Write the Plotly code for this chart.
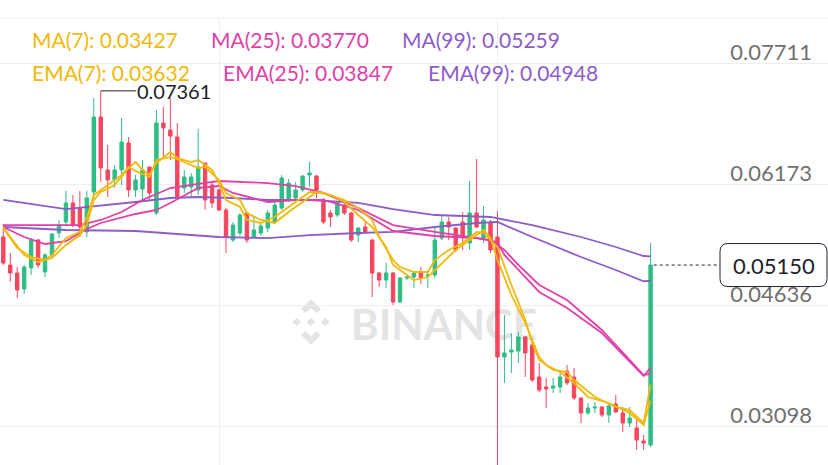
import plotly.graph_objects as go

# ---------------- data ----------------
open_ = [0.05506, 0.05151, 0.05049, 0.04846, 0.05113, 0.05468, 0.05062, 0.05278, 0.05557, 0.05696,
         0.05938, 0.05874, 0.05570, 0.06077, 0.07029, 0.06357, 0.06230, 0.06357, 0.06699, 0.06103,
         0.06115, 0.06395, 0.05811, 0.06953, 0.06864, 0.06775, 0.06128, 0.06141, 0.06103, 0.06445,
         0.06166, 0.06103, 0.05849, 0.05468, 0.05557, 0.05811, 0.05506, 0.05557, 0.05620, 0.05696,
         0.05874, 0.05976, 0.06001, 0.06103, 0.06293, 0.06280, 0.05976, 0.05811, 0.05785, 0.05912,
         0.05811, 0.05531, 0.05633, 0.05468, 0.05049, 0.04960, 0.05049, 0.04681, 0.04986, 0.04998,
         0.05049, 0.05011, 0.05024, 0.05493, 0.05696, 0.05620, 0.05696, 0.05430, 0.05811, 0.05493,
         0.05684, 0.05506, 0.03983, 0.04046, 0.04059, 0.04237, 0.04135, 0.03729, 0.03602, 0.03589,
         0.03602, 0.03805, 0.03729, 0.03462, 0.03272, 0.03335, 0.03348, 0.03247, 0.03386, 0.03272,
         0.03145, 0.03082, 0.02916, 0.02866]
high = [0.05671, 0.05303, 0.05125, 0.05151, 0.05493, 0.05481, 0.05303, 0.05557, 0.05722, 0.06090,
        0.06039, 0.06090, 0.06090, 0.07270, 0.07361, 0.06674, 0.06420, 0.07017, 0.06775, 0.06293,
        0.06483, 0.06395, 0.07118, 0.07156, 0.07270, 0.06953, 0.06357, 0.06318, 0.06877, 0.06445,
        0.06191, 0.06128, 0.05874, 0.05696, 0.05811, 0.05823, 0.05760, 0.05696, 0.05849, 0.05976,
        0.06293, 0.06242, 0.06204, 0.06293, 0.06458, 0.06293, 0.06001, 0.05849, 0.05950, 0.05938,
        0.05823, 0.05633, 0.05696, 0.05481, 0.05062, 0.05176, 0.05062, 0.04998, 0.05024, 0.05062,
        0.05125, 0.05087, 0.05620, 0.05785, 0.05760, 0.05633, 0.05823, 0.06217, 0.06496, 0.05900,
        0.05722, 0.05836, 0.04516, 0.04287, 0.04300, 0.04249, 0.04161, 0.03907, 0.03716, 0.03716,
        0.03792, 0.03881, 0.03843, 0.03475, 0.03399, 0.03412, 0.03361, 0.03399, 0.03500, 0.03348,
        0.03348, 0.03183, 0.02993, 0.05430]
low = [0.05151, 0.04935, 0.04732, 0.04783, 0.05024, 0.05113, 0.04998, 0.05239, 0.05493, 0.05658,
       0.05633, 0.05506, 0.05506, 0.05976, 0.06204, 0.06014, 0.06128, 0.06166, 0.06014, 0.06014,
       0.05976, 0.05976, 0.05785, 0.06509, 0.06483, 0.05976, 0.06065, 0.06014, 0.06039, 0.05849,
       0.05874, 0.05836, 0.05303, 0.05443, 0.05519, 0.05430, 0.05493, 0.05519, 0.05570, 0.05671,
       0.05849, 0.05950, 0.05976, 0.06077, 0.06141, 0.06001, 0.05671, 0.05633, 0.05760, 0.05785,
       0.05443, 0.05443, 0.05557, 0.04744, 0.04871, 0.04859, 0.04643, 0.04668, 0.04960, 0.04859,
       0.04909, 0.04859, 0.04986, 0.05468, 0.05468, 0.05316, 0.05341, 0.05341, 0.05620, 0.05430,
       0.05303, 0.02485, 0.03653, 0.03780, 0.03907, 0.03729, 0.03665, 0.03538, 0.03335, 0.03526,
       0.03526, 0.03627, 0.03437, 0.03145, 0.03247, 0.03272, 0.03221, 0.03145, 0.03272, 0.03031,
       0.03094, 0.02802, 0.02802, 0.02840]
close = [0.05176, 0.05049, 0.04833, 0.05125, 0.05468, 0.05151, 0.05278, 0.05544, 0.05658, 0.05938,
         0.05658, 0.05633, 0.06001, 0.07029, 0.06382, 0.06230, 0.06357, 0.06712, 0.06103, 0.06230,
         0.06357, 0.06065, 0.06953, 0.06890, 0.06788, 0.06014, 0.06268, 0.06268, 0.06395, 0.05976,
         0.05938, 0.05849, 0.05506, 0.05658, 0.05785, 0.05468, 0.05595, 0.05646, 0.05811, 0.05912,
         0.06255, 0.06191, 0.06103, 0.06280, 0.06318, 0.06103, 0.05696, 0.05760, 0.05938, 0.05811,
         0.05468, 0.05620, 0.05570, 0.05049, 0.04960, 0.05049, 0.04681, 0.04986, 0.04998, 0.05049,
         0.04986, 0.05024, 0.05468, 0.05696, 0.05633, 0.05341, 0.05506, 0.05811, 0.05633, 0.05722,
         0.05341, 0.03983, 0.04034, 0.04072, 0.04237, 0.04034, 0.03691, 0.03564, 0.03577, 0.03615,
         0.03729, 0.03653, 0.03462, 0.03272, 0.03335, 0.03348, 0.03247, 0.03361, 0.03285, 0.03145,
         0.03208, 0.02929, 0.02891, 0.05150]

# moving-average lines, read at selected candle indices
ma7_idx = [0, 2, 4, 6, 7, 9, 11, 12, 13, 15, 17, 18, 19, 21, 22, 24, 26, 28, 29, 31, 32, 34, 35, 37,
           39, 41, 44, 45, 47, 49, 51, 53, 55, 56, 57, 59, 61, 63, 65, 67, 69, 70, 71, 73, 75, 77,
           78, 80, 82, 84, 87, 90, 92, 93]
ma7_val = [0.05620, 0.05366, 0.05252, 0.05214, 0.05278, 0.05493, 0.05570, 0.05747, 0.06039, 0.06166,
           0.06293, 0.06395, 0.06344, 0.06268, 0.06483, 0.06522, 0.06458, 0.06382, 0.06395, 0.06230,
           0.06065, 0.05976, 0.05811, 0.05722, 0.05684, 0.05823, 0.06014, 0.06077, 0.06039, 0.05950,
           0.05785, 0.05633, 0.05379, 0.05151, 0.05087, 0.04960, 0.04998, 0.05176, 0.05341, 0.05468,
           0.05595, 0.05493, 0.05214, 0.04770, 0.04414, 0.03983, 0.03881, 0.03792, 0.03653, 0.03475,
           0.03399, 0.03272, 0.03120, 0.03427]
ema7_idx = [0, 1, 3, 5, 7, 9, 11, 12, 13, 14, 16, 18, 19, 20, 21, 22, 24, 25, 27, 28, 30, 31, 32, 34,
            35, 37, 39, 41, 43, 44, 46, 49, 51, 53, 54, 56, 57, 59, 61, 62, 64, 66, 68, 69, 71, 73,
            75, 76, 77, 79, 81, 82, 85, 88, 90, 92, 93]
ema7_val = [0.05633, 0.05506, 0.05278, 0.05189, 0.05239, 0.05405, 0.05531, 0.05658, 0.05976, 0.06077,
            0.06166, 0.06382, 0.06458, 0.06357, 0.06293, 0.06445, 0.06585, 0.06509, 0.06458, 0.06483,
            0.06357, 0.06191, 0.05976, 0.05887, 0.05722, 0.05684, 0.05760, 0.05887, 0.06014, 0.06077,
            0.06065, 0.05976, 0.05874, 0.05722, 0.05506, 0.05214, 0.05125, 0.05062, 0.05062, 0.05214,
            0.05341, 0.05430, 0.05570, 0.05557, 0.05379, 0.04897, 0.04452, 0.04161, 0.03945, 0.03818,
            0.03792, 0.03691, 0.03475, 0.03348, 0.03310, 0.03145, 0.03632]
ma25_idx = [0, 4, 11, 14, 17, 20, 24, 28, 31, 38, 42, 46, 51, 56, 62, 70, 72, 74, 77, 81, 86, 92, 93]
ma25_val = [0.05658, 0.05658, 0.05658, 0.05722, 0.05823, 0.05976, 0.06128, 0.06179, 0.06217, 0.06191,
            0.06153, 0.06065, 0.05874, 0.05658, 0.05570, 0.05468, 0.05341, 0.05151, 0.04897, 0.04706,
            0.04326, 0.03754, 0.03770]
ema25_idx = [0, 3, 6, 9, 12, 14, 19, 22, 24, 28, 31, 33, 38, 42, 46, 51, 56, 62, 68, 71, 72, 74, 77,
             81, 86, 92, 93]
ema25_val = [0.05633, 0.05506, 0.05417, 0.05455, 0.05608, 0.05684, 0.05798, 0.05849, 0.05938, 0.06128,
             0.06153, 0.06065, 0.05950, 0.05976, 0.05976, 0.05849, 0.05582, 0.05519, 0.05493, 0.05443,
             0.05278, 0.05087, 0.04808, 0.04605, 0.04287, 0.03742, 0.03847]
ma99_idx = [0, 9, 19, 24, 28, 33, 38, 44, 51, 56, 62, 70, 76, 83, 88, 92, 93]
ma99_val = [0.05976, 0.05861, 0.05950, 0.06001, 0.06014, 0.06001, 0.05976, 0.05976, 0.05938, 0.05861,
            0.05785, 0.05760, 0.05658, 0.05506, 0.05379, 0.05265, 0.05259]
ema99_idx = [0, 9, 19, 23, 31, 38, 44, 51, 56, 62, 68, 71, 76, 83, 88, 92, 93]
ema99_val = [0.05633, 0.05595, 0.05582, 0.05557, 0.05506, 0.05493, 0.05531, 0.05557, 0.05570, 0.05633,
             0.05684, 0.05696, 0.05506, 0.05252, 0.05087, 0.04944, 0.04948]

y_ticks = [0.03098, 0.04636, 0.06173, 0.07711]
time_grid_idx = [31, 71]

# ---------------- styling ----------------
W, H, TOP = 828, 465, 18
GREEN, RED = "#2EBD85", "#F6465D"
YEL, PINK, PURP = "#F0B90B", "#E040A8", "#8C5CC8"
FONT = "Lato"
x_range = [-0.474, 118.49]
y_range = [0.026118, 0.08286]
ppp = (y_range[1] - y_range[0]) / (H - TOP)


def px_to_x(px):
    return x_range[0] + px / W * (x_range[1] - x_range[0])


def paper_x(px):
    return px / W


def paper_y(py):
    return 1 - (py - TOP) / (H - TOP)


n = len(close)
xs = list(range(n))

fig = go.Figure()
fig.add_trace(go.Candlestick(
    x=xs, open=open_, high=high, low=low, close=close,
    increasing=dict(line=dict(color=GREEN, width=1), fillcolor=GREEN),
    decreasing=dict(line=dict(color=RED, width=1), fillcolor=RED),
    whiskerwidth=0, hoverinfo="skip", showlegend=False))

for idx, val, col in [(ma99_idx, ma99_val, PURP), (ema99_idx, ema99_val, PURP),
                      (ma25_idx, ma25_val, PINK), (ema25_idx, ema25_val, PINK),
                      (ma7_idx, ma7_val, YEL), (ema7_idx, ema7_val, YEL)]:
    fig.add_trace(go.Scatter(x=idx, y=val, mode="lines", line=dict(color=col, width=1.8),
                             hoverinfo="skip", showlegend=False))

# legend texts
row1 = [(f"MA(7): {ma7_val[-1]:.5f}", YEL, 31), (f"MA(25): {ma25_val[-1]:.5f}", PINK, 210),
        (f"MA(99): {ma99_val[-1]:.5f}", PURP, 401)]
row2 = [(f"EMA(7): {ema7_val[-1]:.5f}", YEL, 31), (f"EMA(25): {ema25_val[-1]:.5f}", PINK, 222),
        (f"EMA(99): {ema99_val[-1]:.5f}", PURP, 427)]
annotations = []
for row, py in [(row1, 39), (row2, 73)]:
    for txt, col, px in row:
        annotations.append(dict(text=txt, x=paper_x(px), y=paper_y(py), xref="paper", yref="paper",
                                xanchor="left", yanchor="middle", showarrow=False, borderpad=0,
                                font=dict(family=FONT, size=21, color=col)))

# highest-high marker
hi_i = max(range(n), key=lambda i: high[i])
annotations.append(dict(text=f"{high[hi_i]:.5f}", x=hi_i, y=high[hi_i], xref="x", yref="y",
                        showarrow=True, arrowhead=0, arrowwidth=1, arrowcolor="#1E2329",
                        ax=73, ay=0, borderpad=0,
                        font=dict(family=FONT, size=20, color="#1E2329")))

# current price label
annotations.append(dict(text=f"{close[-1]:.5f}", x=paper_x(774), y=close[-1], xref="paper", yref="y",
                        showarrow=False, xanchor="center", yanchor="middle",
                        font=dict(family=FONT, size=22, color="#1E2329")))

shapes = []
# rounded price box
bx0, bx1 = paper_x(720), paper_x(827)
hh = 21.5 * ppp
r_x, r_y = 8 / W, 8 * ppp
yc = close[-1]
path = (f"M {bx0 + r_x},{yc + hh} L {bx1 - r_x},{yc + hh} Q {bx1},{yc + hh} {bx1},{yc + hh - r_y} "
        f"L {bx1},{yc - hh + r_y} Q {bx1},{yc - hh} {bx1 - r_x},{yc - hh} "
        f"L {bx0 + r_x},{yc - hh} Q {bx0},{yc - hh} {bx0},{yc - hh + r_y} "
        f"L {bx0},{yc + hh - r_y} Q {bx0},{yc + hh} {bx0 + r_x},{yc + hh} Z")
shapes.append(dict(type="path", path=path, xref="paper", yref="y", fillcolor="white",
                   line=dict(color="#1E2329", width=1), layer="above"))
shapes.append(dict(type="line", x0=n - 1 + 0.45, x1=px_to_x(720), y0=yc, y1=yc, xref="x", yref="y",
                   line=dict(color="#1E2329", width=1, dash="3px,3px"), layer="above"))

# top separator
shapes.append(dict(type="line", x0=0, x1=1, y0=1, y1=1, xref="paper", yref="paper",
                   line=dict(color="#EEEEEE", width=1)))

# watermark logo
cx, cy, s = 311, 322, 23
polys = [
    [(0, -0.19), (0.19, 0), (0, 0.19), (-0.19, 0)],
    [(-0.62, -0.19), (-0.43, 0), (-0.62, 0.19), (-0.81, 0)],
    [(0.62, -0.19), (0.81, 0), (0.62, 0.19), (0.43, 0)],
    [(0, -1), (0.43, -0.57), (0.24, -0.38), (0, -0.62), (-0.24, -0.38), (-0.43, -0.57)],
    [(0, 1), (0.43, 0.57), (0.24, 0.38), (0, 0.62), (-0.24, 0.38), (-0.43, 0.57)],
]
lp = ""
for poly in polys:
    pts = [(paper_x(cx + u * s), paper_y(cy + v * s)) for u, v in poly]
    lp += "M " + " L ".join(f"{a},{b}" for a, b in pts) + " Z "
shapes.append(dict(type="path", path=lp, xref="paper", yref="paper", fillcolor="#E4E4E4",
                   line=dict(width=0), layer="below"))
shapes.append(dict(type="rect", x0=paper_x(343), x1=paper_x(545), y0=paper_y(345), y1=paper_y(300),
                   xref="paper", yref="paper", line=dict(width=0), fillcolor="rgba(0,0,0,0)",
                   layer="below",
                   label=dict(text="<b>BINANCE</b>", textposition="middle center",
                              font=dict(family=FONT, size=42, color="#E4E4E4"))))

fig.update_layout(
    width=W, height=H, margin=dict(l=0, r=0, t=TOP, b=0),
    paper_bgcolor="white", plot_bgcolor="white",
    annotations=annotations, shapes=shapes, showlegend=False,
    xaxis=dict(range=x_range, rangeslider=dict(visible=False), showticklabels=False,
               tickvals=time_grid_idx, showgrid=True, gridcolor="#EEEEEE", gridwidth=1,
               zeroline=False, showline=False, ticks=""),
    yaxis=dict(range=y_range, side="right", tickvals=y_ticks,
               ticktext=[f"{v:.5f}" for v in y_ticks], ticklabelposition="inside",
               ticklabelshift=-11, ticklabelstandoff=13, ticks="",
               tickfont=dict(family=FONT, size=22, color="#707070"),
               showgrid=True, gridcolor="#EEEEEE", gridwidth=1, zeroline=False, showline=False),
)

fig.write_html("out.html", config={"displayModeBar": False},
               post_script="document.body.style.margin='0';document.body.style.padding='0';")
